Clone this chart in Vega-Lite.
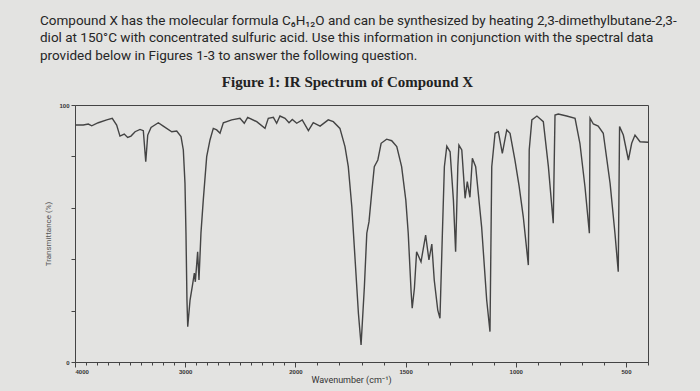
{
  "$schema": "https://vega.github.io/schema/vega-lite/v6.json",
  "width": 573,
  "height": 257,
  "autosize": {"type": "none"},
  "padding": {"left": 75, "top": 105, "right": 52, "bottom": 29},
  "background": "#e3e3e1",
  "title": {
    "text": [
      "Compound X has the molecular formula C₆H₁₂O and can be synthesized by heating 2,3-dimethylbutane-2,3-",
      "diol at 150°C with concentrated sulfuric acid.  Use this information in conjunction with the spectral data",
      "provided below in Figures 1-3 to answer the following question."
    ],
    "anchor": "start",
    "frame": "group",
    "dx": -35,
    "font": "Roboto",
    "fontSize": 13.5,
    "fontWeight": "normal",
    "color": "#262626",
    "lineHeight": 17.5,
    "offset": 12
  },
  "config": {
    "view": {"stroke": "#444", "strokeWidth": 1},
    "axis": {"grid": false, "domainColor": "#444", "tickColor": "#444", "labelColor": "#333", "titleColor": "#333"}
  },
  "data": {
    "values": [
      {"wn": 4000, "t": 92.2}, {"wn": 3925, "t": 92.2}, {"wn": 3879, "t": 92.6}, {"wn": 3848, "t": 91.9},
      {"wn": 3789, "t": 93.1}, {"wn": 3712, "t": 94.2}, {"wn": 3662, "t": 94.8}, {"wn": 3622, "t": 92.2},
      {"wn": 3592, "t": 87.9}, {"wn": 3553, "t": 88.7}, {"wn": 3522, "t": 87.4}, {"wn": 3492, "t": 87.9},
      {"wn": 3455, "t": 89.6}, {"wn": 3410, "t": 90.5}, {"wn": 3380, "t": 90.0}, {"wn": 3358, "t": 77.9},
      {"wn": 3340, "t": 88.3}, {"wn": 3310, "t": 91.3}, {"wn": 3244, "t": 93.1}, {"wn": 3199, "t": 91.8},
      {"wn": 3122, "t": 89.6}, {"wn": 3077, "t": 89.9}, {"wn": 3038, "t": 87.7}, {"wn": 3017, "t": 82.5},
      {"wn": 3002, "t": 69.6}, {"wn": 2993, "t": 50.2}, {"wn": 2984, "t": 24.1}, {"wn": 2977, "t": 13.7},
      {"wn": 2956, "t": 24.1}, {"wn": 2936, "t": 29.3}, {"wn": 2917, "t": 34.6}, {"wn": 2908, "t": 31.2},
      {"wn": 2887, "t": 42.9}, {"wn": 2875, "t": 31.9}, {"wn": 2857, "t": 50.2}, {"wn": 2836, "t": 63.0},
      {"wn": 2805, "t": 79.9}, {"wn": 2775, "t": 86.4}, {"wn": 2745, "t": 90.9}, {"wn": 2714, "t": 90.3},
      {"wn": 2684, "t": 89.0}, {"wn": 2654, "t": 93.1}, {"wn": 2578, "t": 94.2}, {"wn": 2503, "t": 94.8},
      {"wn": 2464, "t": 92.9}, {"wn": 2433, "t": 95.2}, {"wn": 2351, "t": 93.5}, {"wn": 2276, "t": 90.9},
      {"wn": 2246, "t": 94.8}, {"wn": 2200, "t": 95.2}, {"wn": 2170, "t": 92.9}, {"wn": 2140, "t": 95.7},
      {"wn": 2094, "t": 94.8}, {"wn": 2058, "t": 93.1}, {"wn": 2028, "t": 94.4}, {"wn": 1994, "t": 92.9},
      {"wn": 1969, "t": 94.2}, {"wn": 1941, "t": 90.0}, {"wn": 1919, "t": 93.1}, {"wn": 1888, "t": 91.8},
      {"wn": 1851, "t": 94.2}, {"wn": 1828, "t": 93.5}, {"wn": 1798, "t": 90.9}, {"wn": 1775, "t": 83.8},
      {"wn": 1760, "t": 76.0}, {"wn": 1744, "t": 60.4}, {"wn": 1729, "t": 39.7}, {"wn": 1714, "t": 18.9},
      {"wn": 1702, "t": 6.6}, {"wn": 1687, "t": 29.3}, {"wn": 1676, "t": 50.1}, {"wn": 1666, "t": 54.6},
      {"wn": 1654, "t": 65.6}, {"wn": 1642, "t": 76.0}, {"wn": 1626, "t": 78.6}, {"wn": 1611, "t": 85.1},
      {"wn": 1586, "t": 86.7}, {"wn": 1563, "t": 86.1}, {"wn": 1540, "t": 83.8}, {"wn": 1518, "t": 76.0},
      {"wn": 1499, "t": 63.0}, {"wn": 1488, "t": 50.1}, {"wn": 1475, "t": 27.4}, {"wn": 1470, "t": 20.9},
      {"wn": 1460, "t": 28.7}, {"wn": 1450, "t": 42.9}, {"wn": 1430, "t": 39.0}, {"wn": 1409, "t": 49.4},
      {"wn": 1394, "t": 39.7}, {"wn": 1381, "t": 45.9}, {"wn": 1370, "t": 31.9}, {"wn": 1354, "t": 20.2},
      {"wn": 1344, "t": 17.0}, {"wn": 1333, "t": 50.1}, {"wn": 1324, "t": 76.0}, {"wn": 1313, "t": 84.0},
      {"wn": 1298, "t": 81.8}, {"wn": 1283, "t": 63.0}, {"wn": 1273, "t": 42.9}, {"wn": 1263, "t": 76.0},
      {"wn": 1258, "t": 84.4}, {"wn": 1245, "t": 82.5}, {"wn": 1230, "t": 63.7}, {"wn": 1220, "t": 70.2},
      {"wn": 1208, "t": 64.1}, {"wn": 1197, "t": 79.3}, {"wn": 1182, "t": 76.0}, {"wn": 1155, "t": 52.6},
      {"wn": 1132, "t": 24.1}, {"wn": 1117, "t": 11.8}, {"wn": 1109, "t": 76.0}, {"wn": 1094, "t": 89.0},
      {"wn": 1079, "t": 89.6}, {"wn": 1061, "t": 81.2}, {"wn": 1041, "t": 90.3}, {"wn": 1026, "t": 89.0},
      {"wn": 1004, "t": 78.6}, {"wn": 985, "t": 68.5}, {"wn": 966, "t": 56.5}, {"wn": 943, "t": 37.7},
      {"wn": 939, "t": 82.5}, {"wn": 927, "t": 94.2}, {"wn": 904, "t": 95.7}, {"wn": 875, "t": 93.5},
      {"wn": 852, "t": 76.0}, {"wn": 830, "t": 54.0}, {"wn": 822, "t": 96.1}, {"wn": 807, "t": 96.5},
      {"wn": 769, "t": 95.7}, {"wn": 731, "t": 94.8}, {"wn": 709, "t": 85.1}, {"wn": 686, "t": 68.2},
      {"wn": 666, "t": 50.1}, {"wn": 663, "t": 94.9}, {"wn": 648, "t": 92.6}, {"wn": 626, "t": 91.8},
      {"wn": 603, "t": 89.0}, {"wn": 572, "t": 69.5}, {"wn": 550, "t": 50.1}, {"wn": 535, "t": 35.1},
      {"wn": 529, "t": 91.6}, {"wn": 512, "t": 88.3}, {"wn": 489, "t": 78.6}, {"wn": 474, "t": 85.1},
      {"wn": 459, "t": 88.3}, {"wn": 436, "t": 85.7}, {"wn": 400, "t": 85.5}
    ]
  },
  "layer": [
    {
      "mark": {"type": "line", "color": "#444", "strokeWidth": 1.4, "interpolate": "linear"},
      "encoding": {
        "x": {
          "field": "wn", "type": "quantitative",
          "scale": {"domain": [4000, 2000, 400], "range": [0, 220.4, 573], "nice": false, "zero": false},
          "axis": {
            "orient": "bottom",
            "values": [4000,3900,3800,3700,3600,3500,3400,3300,3200,3100,3000,2900,2800,2700,2600,2500,2400,2300,2200,2100,2000,1900,1800,1700,1600,1500,1400,1300,1200,1100,1000,900,800,700,600,500,400],
            "format": "d",
            "labelExpr": "indexof([4000,3000,2000,1500,1000,500], datum.value) >= 0 ? datum.label : ''",
            "labelFontSize": 6,
            "labelFontWeight": "bold",
            "tickSize": {"condition": {"test": "indexof([4000,3000,2000,1500,1000,500], datum.value) >= 0", "value": 5}, "value": 3},
            "labelPadding": 1,
            "title": "Wavenumber (cm⁻¹)",
            "titleFont": "Roboto",
            "titleFontSize": 9,
            "titleFontWeight": "normal",
            "titlePadding": 1,
            "titleX": 276
          }
        },
        "y": {
          "field": "t", "type": "quantitative",
          "scale": {"domain": [0, 100], "nice": false},
          "axis": {
            "values": [0,10,20,30,40,50,60,70,80,90,100],
            "labelExpr": "datum.value % 50 === 0 ? datum.label : ''",
            "labelFontSize": 6,
            "labelFontWeight": "bold",
            "tickSize": 4,
            "labelPadding": 2,
            "title": "Transmittance (%)",
            "titleFont": "Roboto",
            "titleFontSize": 8,
            "titleFontWeight": "normal",
            "titleColor": "#555",
            "titlePadding": 6
          }
        }
      }
    },
    {
      "mark": {"type": "line", "strokeOpacity": 0},
      "encoding": {
        "x": {
          "field": "wn", "type": "quantitative",
          "axis": {
            "orient": "top",
            "labels": false,
            "ticks": false,
            "domain": false,
            "title": "Figure 1: IR Spectrum of Compound X",
            "titleFont": "Liberation Serif",
            "titleFontSize": 15,
            "titleFontWeight": "bold",
            "titleColor": "#222",
            "titlePadding": 16,
            "titleX": 272
          }
        },
        "y": {"field": "t", "type": "quantitative"}
      }
    }
  ],
  "resolve": {"axis": {"x": "independent"}}
}
